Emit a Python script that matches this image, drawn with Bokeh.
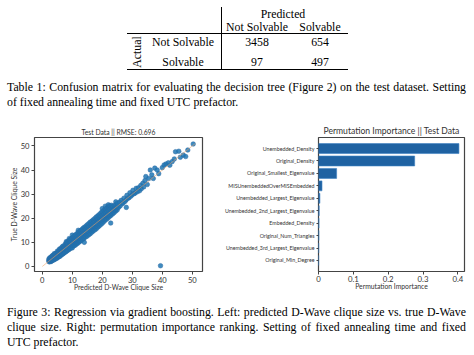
from bokeh.plotting import figure
from bokeh.models import Div, Range1d, FixedTicker, ColumnDataSource
from bokeh.layouts import column, row
from bokeh.embed import file_html
from bokeh.resources import INLINE

# ---------------- data ----------------
table_predicted_labels = ["Not Solvable", "Solvable"]
table_actual_labels = ["Not Solvable", "Solvable"]
confusion_actual_not_solvable = [3458, 654]
confusion_actual_solvable = [97, 497]

caption_table = ["Table 1: Confusion matrix for evaluating the decision tree (Figure 2) on the test dataset. Setting",
                 "of fixed annealing time and fixed UTC prefactor."]
caption_figure = ["Figure 3: Regression via gradient boosting. Left: predicted D-Wave clique size vs. true D-Wave",
                  "clique size. Right: permutation importance ranking. Setting of fixed annealing time and fixed",
                  "UTC prefactor."]

# scatter: predicted value -> true values read along the dense band
dense_rows = {
    2.2: [2.0, 2.6, 3.1], 2.5: [1.9, 2.4, 3.0, 3.6], 2.8: [2.2, 2.9, 3.4],
    3.0: [2.1, 2.7, 3.3, 4.0], 3.3: [2.5, 3.0, 3.8, 4.4], 3.6: [2.6, 3.2, 3.9, 4.6],
    4.0: [2.8, 3.5, 4.1, 4.8, 5.3], 4.3: [3.1, 3.8, 4.5, 5.1], 4.6: [3.3, 4.0, 4.7, 5.5],
    5.0: [3.5, 4.2, 4.9, 5.6, 6.3], 5.3: [3.9, 4.6, 5.3, 6.0], 5.6: [4.1, 4.9, 5.6, 6.4, 7.0],
    6.0: [4.3, 5.2, 5.9, 6.7, 7.4], 6.3: [4.8, 5.5, 6.3, 7.1], 6.6: [5.0, 5.8, 6.6, 7.4, 8.1],
    7.0: [5.3, 6.1, 6.9, 7.7, 8.5], 7.3: [5.7, 6.5, 7.3, 8.1], 7.6: [5.9, 6.8, 7.6, 8.4, 9.2],
    8.0: [6.2, 7.1, 7.9, 8.8, 9.6, 10.3], 8.3: [6.6, 7.4, 8.3, 9.1, 10.0], 8.6: [6.8, 7.7, 8.6, 9.5, 10.4],
    9.0: [7.1, 8.0, 8.9, 9.9, 10.8, 11.6], 9.3: [7.5, 8.4, 9.3, 10.2, 11.1], 9.6: [7.8, 8.7, 9.6, 10.5, 11.5],
    10.0: [7.7, 8.9, 9.9, 10.9, 11.9, 13.0], 10.4: [8.5, 9.4, 10.4, 11.3, 12.3], 10.8: [8.7, 9.8, 10.8, 11.7, 12.8],
    11.2: [9.1, 10.1, 11.2, 12.1, 13.2], 11.6: [9.5, 10.5, 11.6, 12.6, 13.6], 12.0: [9.8, 10.9, 12.0, 13.0, 14.1, 15.0],
    12.4: [10.3, 11.3, 12.4, 13.4, 14.4], 12.8: [10.6, 11.7, 12.8, 13.8, 14.9], 13.2: [11.0, 12.1, 13.2, 14.2, 15.3],
    13.6: [11.4, 12.5, 13.6, 14.7, 15.8], 14.0: [10.0, 11.8, 12.9, 14.0, 15.1, 16.2], 14.5: [12.3, 13.4, 14.5, 15.6, 16.7],
    15.0: [12.6, 13.8, 15.0, 16.1, 17.3], 15.5: [13.2, 14.3, 15.5, 16.6, 17.8], 16.0: [13.6, 14.8, 16.0, 17.2, 18.4],
    16.5: [14.2, 15.3, 16.5, 17.6, 18.8], 17.0: [14.7, 15.8, 17.0, 18.2, 19.4], 17.5: [15.2, 16.4, 17.5, 18.7, 19.9],
    18.0: [15.6, 16.8, 18.0, 19.2, 20.5], 18.5: [16.3, 17.4, 18.5, 19.7, 21.0], 19.0: [16.8, 17.9, 19.0, 20.2, 21.5],
    19.5: [17.4, 18.5, 19.5, 20.8, 22.2], 20.0: [17.9, 19.0, 20.0, 21.3, 22.8, 24.0], 20.5: [18.6, 19.5, 20.5, 21.8, 23.2],
    21.0: [19.2, 20.0, 21.0, 22.3, 23.8, 25.0], 21.5: [19.7, 20.6, 21.5, 22.8, 24.2], 22.0: [20.2, 21.1, 22.0, 23.3, 24.8, 25.6],
    22.5: [20.8, 21.6, 22.5, 23.8, 25.2], 23.0: [21.3, 22.2, 23.0, 24.3, 25.4], 23.5: [21.9, 22.8, 23.5, 24.8],
    24.0: [22.4, 23.3, 24.0, 25.3], 24.5: [23.0, 23.8, 24.5, 25.7, 26.8], 25.0: [23.5, 24.3, 25.0, 26.2],
}
sparse_predicted = [22.8, 25.5, 25.8, 26.0, 26.3, 26.6, 27.0, 27.2, 27.6, 28.0, 28.0, 28.2, 28.6, 29.0, 29.2,
                    29.6, 30.0, 30.2, 30.6, 31.0, 31.3, 31.7, 32.0, 32.4, 32.8, 33.0, 33.5, 33.8, 34.2, 34.5,
                    35.0, 35.5, 36.0, 36.5, 37.0, 37.5, 38.3, 38.8, 39.4, 40.0, 40.6, 41.2, 42.0, 42.5, 43.3,
                    44.0, 44.4, 45.5, 46.0, 47.0, 47.8, 48.5, 50.3]
sparse_true = [18.0, 24.6, 26.7, 25.2, 27.4, 26.0, 26.4, 28.3, 27.0, 27.7, 24.5, 29.5, 28.3, 28.6, 30.6,
               29.2, 29.8, 31.6, 30.2, 30.5, 32.4, 31.0, 32.6, 31.4, 33.6, 32.2, 34.5, 33.0, 35.6, 37.3,
               34.0, 36.5, 40.0, 38.0, 36.5, 40.8, 40.0, 38.5, 0.3, 41.0, 42.1, 42.5, 43.0, 42.0, 43.5,
               44.6, 47.6, 47.8, 45.3, 46.2, 45.6, 48.3, 50.8]
identity_line = [0, 51]
scatter_ticks = [0, 10, 20, 30, 40, 50]

features = ["Unembedded_Density", "Original_Density", "Original_Smallest_Eigenvalue",
            "MISUnembeddedOverMISEmbedded", "Unembedded_Largest_Eigenvalue",
            "Unembedded_2nd_Largest_Eigenvalue", "Embedded_Density", "Original_Num_Triangles",
            "Unembedded_3rd_Largest_Eigenvalue", "Original_Min_Degree"]
importance = [0.403, 0.276, 0.052, 0.010, 0.004, 0.002, 0.0015, 0.0012, 0.0008, 0.0005]
importance_ticks = [0.0, 0.1, 0.2, 0.3, 0.4]

# ---------------- text blocks ----------------
SERIF = "Liberation Serif,Times New Roman,serif"
FS = 11.8
FONT_CSS = f"font-family:{SERIF};font-size:{FS}px;color:#000;"


def at(txt, x, y, extra=""):
    return (f'<span style="position:absolute;left:{x}px;top:{y}px;transform:translate(-50%,-50%);'
            f'white-space:nowrap;{FONT_CSS}{extra}">{txt}</span>')


def hline(x, y, w, t=0.9):
    return f'<div style="position:absolute;left:{x}px;top:{y}px;width:{w}px;height:{t}px;background:#000;"></div>'


def vline(x, y, h, t=0.9):
    return f'<div style="position:absolute;left:{x}px;top:{y}px;width:{t}px;height:{h}px;background:#000;"></div>'


def caption_html(lines, top0, lh=15):
    out = []
    for i, ln in enumerate(lines):
        last = "justify" if i < len(lines) - 1 else "left"
        out.append(f'<div style="position:absolute;left:7px;top:{top0 + i * lh}px;width:459px;{FONT_CSS}'
                   f'line-height:{lh}px;text-align:justify;text-align-last:{last};">{ln}</div>')
    return "".join(out)


cols_x = [257, 320]
top_parts = [at("Predicted", 283, 14)]
for lab, x in zip(table_predicted_labels, cols_x):
    top_parts.append(at(lab, x, 26.5))
top_parts.append(at(table_actual_labels[0], 183, 42))
top_parts.append(at(table_actual_labels[1], 183, 62))
for v, x in zip(confusion_actual_not_solvable, cols_x):
    top_parts.append(at(str(v), x, 42))
for v, x in zip(confusion_actual_solvable, cols_x):
    top_parts.append(at(str(v), x, 62))
top_parts.append(f'<span style="position:absolute;left:137px;top:52px;transform:translate(-50%,-50%) rotate(-90deg);'
                 f'white-space:nowrap;{FONT_CSS}">Actual</span>')
top_parts.append(hline(127, 33, 221))
top_parts.append(hline(127, 69, 221))
top_parts.append(vline(220.5, 7, 62.5))
top_parts.append(caption_html(caption_table, 79.5))

top_html = f'<div style="position:relative;width:474px;height:120px;{FONT_CSS}">' + "".join(top_parts) + '</div>'
bottom_html = (f'<div style="position:relative;width:474px;height:57px;{FONT_CSS}">'
               + caption_html(caption_figure, 6.5) + '</div>')

div_styles = {"font-family": SERIF, "font-size": f"{FS}px", "color": "#000"}
top_div = Div(text=top_html, width=474, height=120, margin=0, styles=div_styles)
bottom_div = Div(text=bottom_html, width=474, height=57, margin=0, styles=div_styles)

# ---------------- left: scatter ----------------
SANS = "Lato"
pred_all, true_all = [], []
for xv, ys in dense_rows.items():
    for yv in ys:
        pred_all.append(xv)
        true_all.append(yv)
pred_all += sparse_predicted
true_all += sparse_true

p1 = figure(frame_width=168, frame_height=134, min_border_left=34, min_border_right=13,
            min_border_top=17, min_border_bottom=27,
            x_range=Range1d(-2.6, 53.4), y_range=Range1d(-2.1, 53.5),
            output_backend="svg", toolbar_location=None, title="Test Data || RMSE: 0.696")
p1.scatter(pred_all, true_all, size=4.6, fill_color="#1f77b4", fill_alpha=0.85,
           line_color="#2a6aa5", line_width=0.5)
p1.line(identity_line, identity_line, line_color="#f0a060", line_alpha=0.55, line_width=1.0)

# ---------------- right: permutation importance ----------------
ypos = list(range(len(features)))
src = ColumnDataSource(dict(y=ypos, v=importance, name=features))
p2 = figure(frame_width=146, frame_height=134, min_border_left=103, min_border_right=10,
            min_border_top=17, min_border_bottom=27,
            x_range=Range1d(0, 0.419), y_range=Range1d(9.89, -0.89),
            output_backend="svg", toolbar_location=None, title="Permutation Importance || Test Data")
p2.hbar(y="y", right="v", left=0, height=0.8, source=src, fill_color="#1f62a2", line_color="#3d82c2",
        line_width=0.6)
p2.yaxis.ticker = FixedTicker(ticks=ypos)
p2.yaxis.major_label_overrides = {i: n for i, n in zip(ypos, features)}
p2.xaxis.ticker = FixedTicker(ticks=importance_ticks)
p1.xaxis.ticker = FixedTicker(ticks=scatter_ticks)
p1.yaxis.ticker = FixedTicker(ticks=scatter_ticks)
p1.xaxis.axis_label = "Predicted D-Wave Clique Size"
p1.yaxis.axis_label = "True D-Wave Clique Size"
p2.xaxis.axis_label = "Permutation Importance"

for p, tsize in ((p1, "6.8px"), (p2, "8.6px")):
    p.title.align = "center"
    p.title.text_font = SANS
    p.title.text_font_size = tsize
    p.title.text_font_style = "normal"
    p.title.text_color = "#333333"
    p.title.standoff = 3
    p.grid.visible = False
    p.outline_line_color = "#444444"
    p.outline_line_width = 1.2
    p.outline_line_alpha = 1
    p.background_fill_color = "white"
    p.border_fill_color = "white"
    for ax in (p.xaxis[0], p.yaxis[0]):
        ax.axis_line_color = None
        ax.minor_tick_line_color = None
        ax.major_tick_in = 0
        ax.major_tick_out = 3
        ax.major_tick_line_color = "#444444"
        ax.major_label_text_font = SANS
        ax.major_label_text_color = "#333333"
        ax.major_label_standoff = 2
        ax.axis_label_text_font = SANS
        ax.axis_label_text_font_style = "normal"
        ax.axis_label_text_color = "#333333"
        ax.axis_label_standoff = 4
        ax.axis_label_text_font_size = "6.8px"

p1.xaxis.major_label_text_font_size = "7.6px"
p1.yaxis.major_label_text_font_size = "7.6px"
p2.xaxis.major_label_text_font_size = "7.8px"
p2.yaxis.major_label_text_font_size = "5.3px"
p2.yaxis.major_tick_out = 2
p1.xaxis.axis_label_standoff = -3
p2.xaxis.axis_label_standoff = -3
p2.xaxis.major_label_standoff = 1
p1.yaxis.axis_label_standoff = 0

layout = column(top_div, row(p1, p2, spacing=0), bottom_div, spacing=0)
open("out.html", "w").write(file_html(layout, INLINE))
